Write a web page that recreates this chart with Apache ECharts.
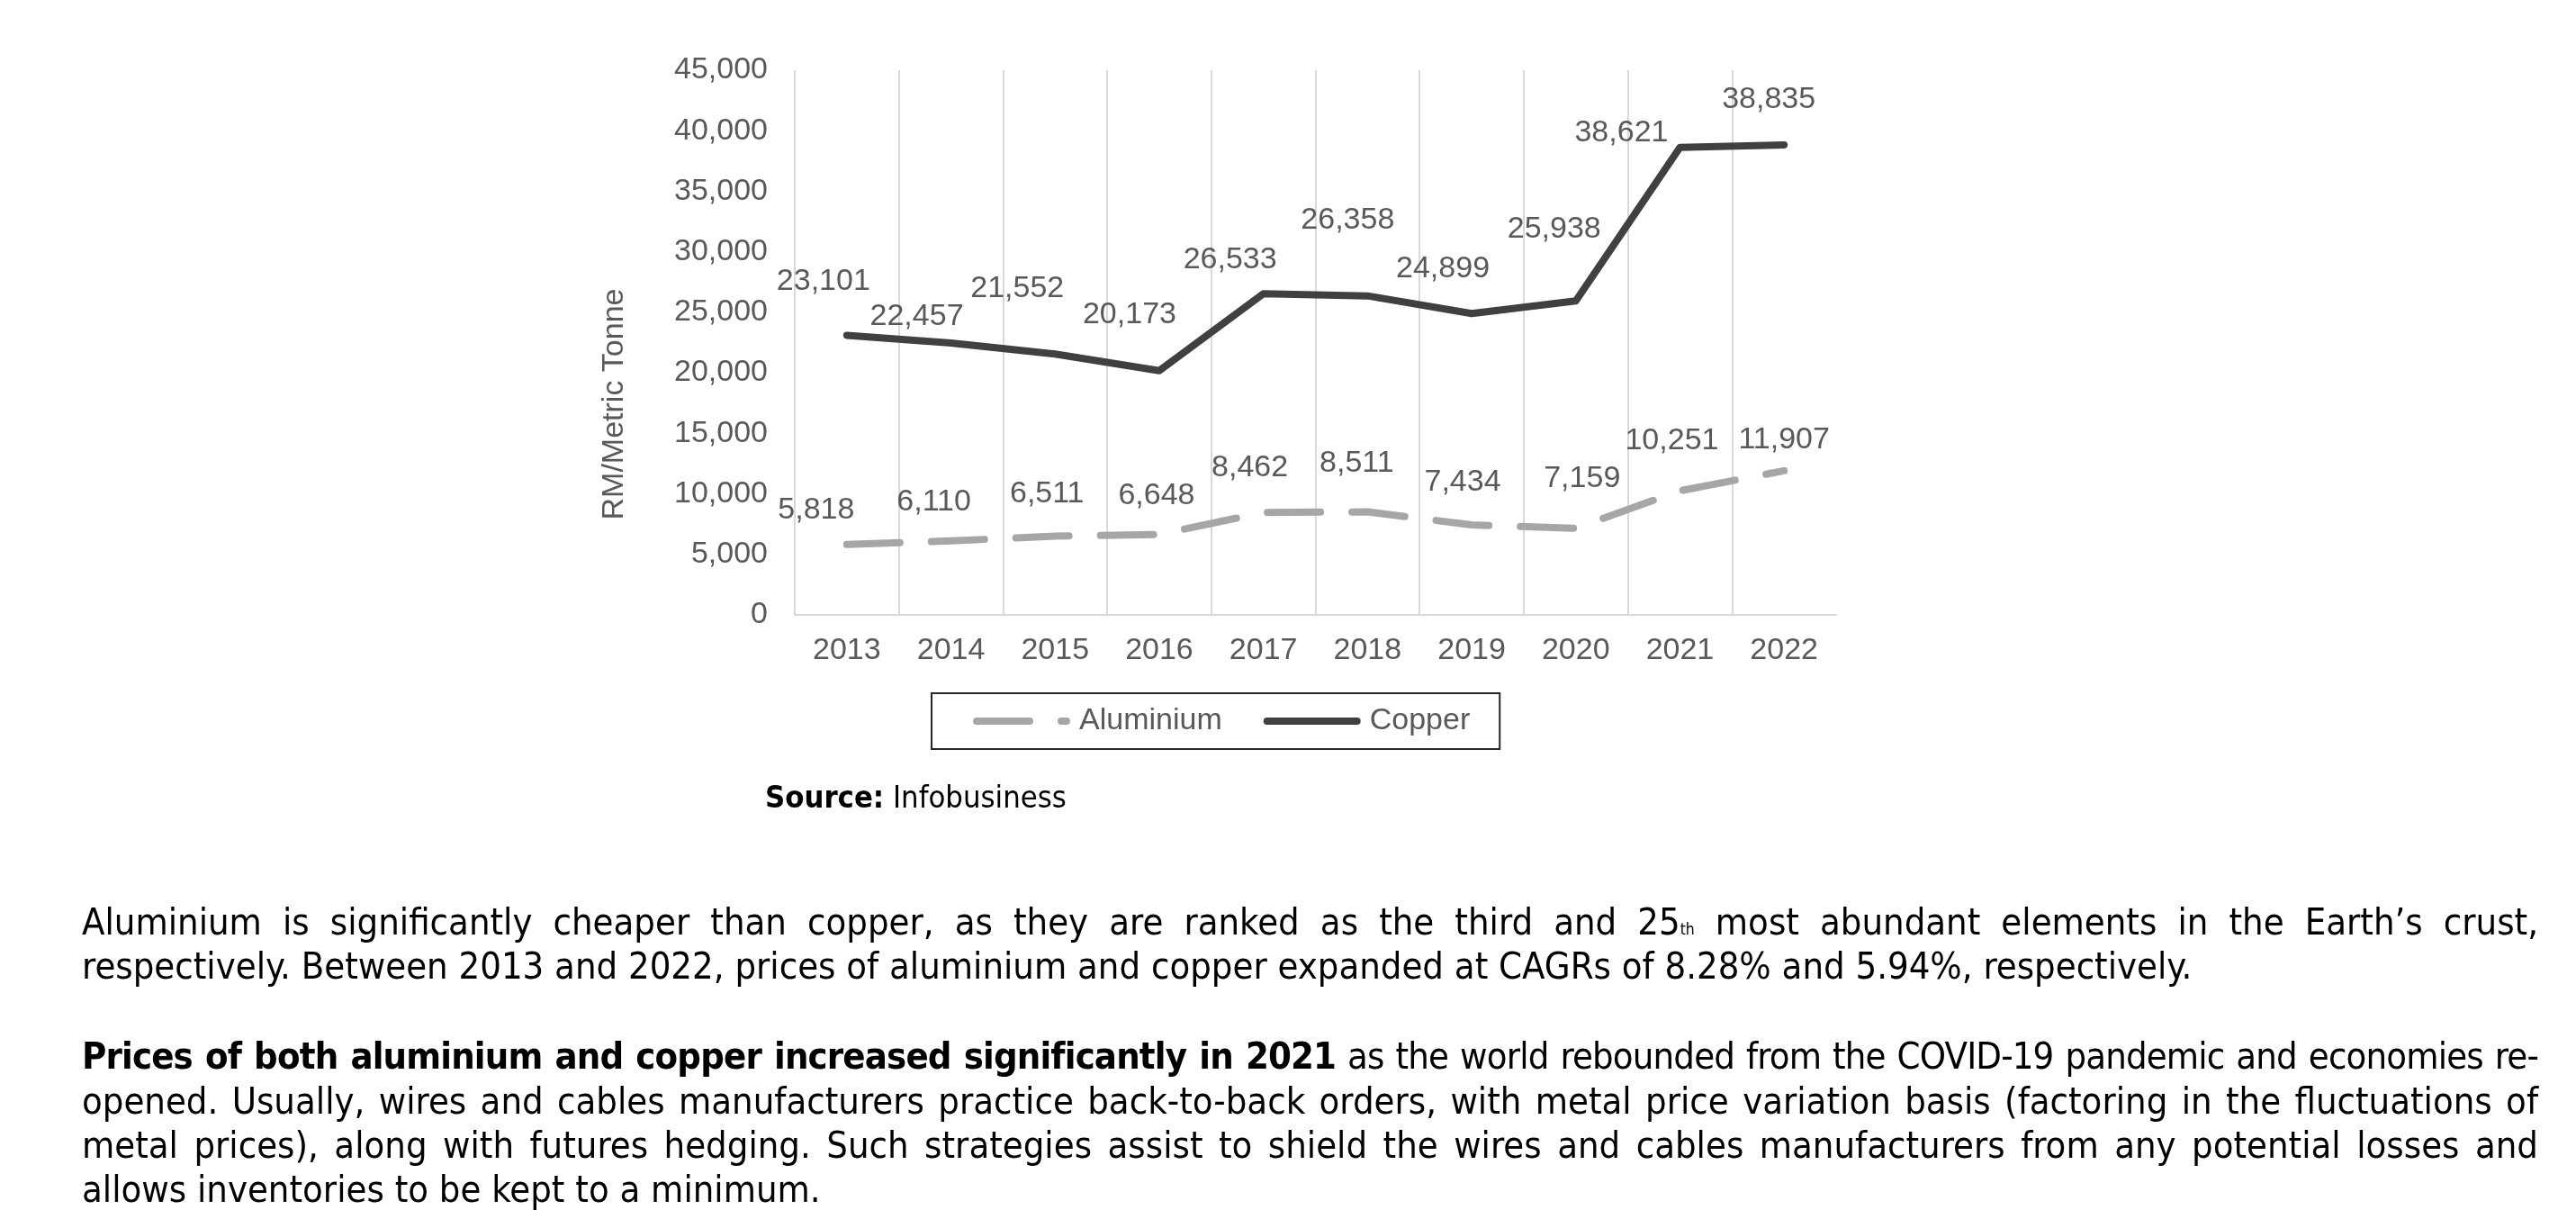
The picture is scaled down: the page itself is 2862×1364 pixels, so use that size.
<!DOCTYPE html>
<html>
<head>
<meta charset="utf-8">
<script src="https://cdn.jsdelivr.net/npm/echarts@6/dist/echarts.min.js"></script>
<style>
  html, body { margin: 0; padding: 0; background: #ffffff; }
  #chart { position: absolute; left: 0; top: 0; width: 2862px; height: 1364px; }
  .txt { position: absolute; font-family: "DejaVu Sans Condensed", "DejaVu Sans", sans-serif; font-stretch: condensed; color: #000; white-space: nowrap; }
  .line { left: 91px; width: 2729px; height: 50px; line-height: 50px; }
  .just { text-align: justify; text-align-last: justify; }
  .th { font-size: 0.42em; vertical-align: baseline; }
  #measure { position: absolute; visibility: hidden; white-space: nowrap; font-family: "DejaVu Sans Condensed", "DejaVu Sans", sans-serif; font-stretch: condensed; font-size: 100px; }
</style>
</head>
<body>
<div id="chart"></div>

<div class="txt line just" id="p1l1" style="top:999px">Aluminium is significantly cheaper than copper, as they are ranked as the third and 25<span class="th">th</span> most abundant elements in the Earth’s crust,</div>
<div class="txt line" id="p1l2" style="top:1048px">respectively. Between 2013 and 2022, prices of aluminium and copper expanded at CAGRs of 8.28% and 5.94%, respectively.</div>
<div class="txt line just" id="p2l1" style="top:1148px"><b>Prices of both aluminium and copper increased significantly in 2021</b> as the world rebounded from the COVID-19 pandemic and economies re-</div>
<div class="txt line just" id="p2l2" style="top:1198px">opened. Usually, wires and cables manufacturers practice back-to-back orders, with metal price variation basis (factoring in the fluctuations of</div>
<div class="txt line just" id="p2l3" style="top:1247px">metal prices), along with futures hedging. Such strategies assist to shield the wires and cables manufacturers from any potential losses and</div>
<div class="txt line" id="p2l4" style="top:1296px">allows inventories to be kept to a minimum.</div>
<div class="txt" id="source" style="left:850px; top:860px; height:50px; line-height:50px;"><b>Source:</b> Infobusiness</div>
<span id="measure"></span>

<script>
// ---- data ----
const years = ['2013', '2014', '2015', '2016', '2017', '2018', '2019', '2020', '2021', '2022'];
const aluminium = [5818, 6110, 6511, 6648, 8462, 8511, 7434, 7159, 10251, 11907];
const copper = [23101, 22457, 21552, 20173, 26533, 26358, 24899, 25938, 38621, 38835];
const yMin = 0, yMax = 45000, yInterval = 5000;

// ---- label layout (pixel offsets of each data label from its point) ----
const aluminiumLabelOffsets = [[-34,-38],[-19,-43],[-9,-47],[-3,-43],[-15,-50],[-12,-54],[-10,-47],[7,-55],[-9,-56],[0,-34]];
const copperLabelOffsets = [[-26,-60],[-38,-29],[-42,-73],[-33,-62],[-37,-38],[-22,-84],[-32,-50],[-24,-80],[-65,-16],[-17,-50]];

// ---- fit body text size to reference line width ----
(function fitText() {
  const m = document.getElementById('measure');
  m.style.fontSize = '100px';
  m.innerHTML = document.getElementById('p1l2').innerHTML;
  const w = m.getBoundingClientRect().width;
  const fs = 100 * 2345 / w;
  document.querySelectorAll('.line').forEach(el => { el.style.fontSize = fs.toFixed(2) + 'px'; });
  // squeeze justified lines that would overflow the column
  m.style.fontSize = fs.toFixed(2) + 'px';
  document.querySelectorAll('.just').forEach(el => {
    m.innerHTML = el.innerHTML;
    const lw = m.getBoundingClientRect().width;
    const avail = 2729 - 40;
    if (lw > avail) {
      const n = el.textContent.length;
      el.style.letterSpacing = ((avail - lw) / n).toFixed(3) + 'px';
    }
  });
  m.style.fontSize = '100px';
  m.innerHTML = document.getElementById('source').innerHTML;
  const w2 = m.getBoundingClientRect().width;
  document.getElementById('source').style.fontSize = (100 * 335 / w2).toFixed(2) + 'px';
})();

const FONT = '"Liberation Sans", Arial, sans-serif';
const LABEL_COLOR = '#595959';
const fmt = v => Number(v).toLocaleString('en-US');

function buildData(values, offsets) {
  return values.map((v, i) => ({ value: v, label: { offset: offsets[i] } }));
}

const chart = echarts.init(document.getElementById('chart'), null, { renderer: 'canvas' });
chart.setOption({
  animation: false,
  backgroundColor: '#ffffff',
  grid: { left: 883, top: 78, width: 1157, height: 605 },
  xAxis: {
    type: 'category',
    data: years,
    boundaryGap: true,
    axisLine: { show: true, lineStyle: { color: '#d9d9d9', width: 2 } },
    axisTick: { show: false },
    splitLine: { show: true, interval: 0, showMaxLine: false, lineStyle: { color: '#d9d9d9', width: 2 } },
    axisLabel: { interval: 0, fontSize: 34, color: LABEL_COLOR, fontFamily: FONT, margin: 23 }
  },
  yAxis: {
    type: 'value',
    min: yMin, max: yMax, interval: yInterval,
    axisLine: { show: false },
    axisTick: { show: false },
    splitLine: { show: false },
    axisLabel: { fontSize: 34, color: LABEL_COLOR, fontFamily: FONT, margin: 30, formatter: v => fmt(v) }
  },
  legend: {
    left: 1035, top: 770,
    orient: 'horizontal',
    padding: [14, 33, 14, 46],
    itemGap: 46,
    itemWidth: 100,
    itemHeight: 34,
    borderColor: '#262626',
    borderWidth: 2,
    textStyle: { fontSize: 34, color: LABEL_COLOR, fontFamily: FONT, padding: [0, 0, 0, 9] },
    itemStyle: { color: 'rgba(0,0,0,0)', borderWidth: 0 },
    lineStyle: { width: 8, type: 'inherit', cap: 'round' },
    data: ['Aluminium', 'Copper']
  },
  graphic: [{
    type: 'text',
    x: 683, y: 449,
    rotation: Math.PI / 2,
    style: { text: 'RM/Metric Tonne', fontSize: 34, fill: LABEL_COLOR, fontFamily: FONT, align: 'center', verticalAlign: 'middle' }
  }],
  series: [
    {
      name: 'Aluminium',
      type: 'line',
      data: buildData(aluminium, aluminiumLabelOffsets),
      symbol: 'circle', symbolSize: 0.1,
      itemStyle: { color: '#a6a6a6' },
      lineStyle: { color: '#a6a6a6', width: 8, type: [59, 35], cap: 'round', join: 'round' },
      label: { show: true, position: 'inside', fontSize: 34, color: LABEL_COLOR, fontFamily: FONT, formatter: p => fmt(p.value) },
      emphasis: { disabled: true },
      z: 2
    },
    {
      name: 'Copper',
      type: 'line',
      data: buildData(copper, copperLabelOffsets),
      symbol: 'circle', symbolSize: 0.1,
      itemStyle: { color: '#404040' },
      lineStyle: { color: '#404040', width: 8, cap: 'round', join: 'round' },
      label: { show: true, position: 'inside', fontSize: 34, color: LABEL_COLOR, fontFamily: FONT, formatter: p => fmt(p.value) },
      emphasis: { disabled: true },
      z: 3
    }
  ]
});
</script>
</body>
</html>
